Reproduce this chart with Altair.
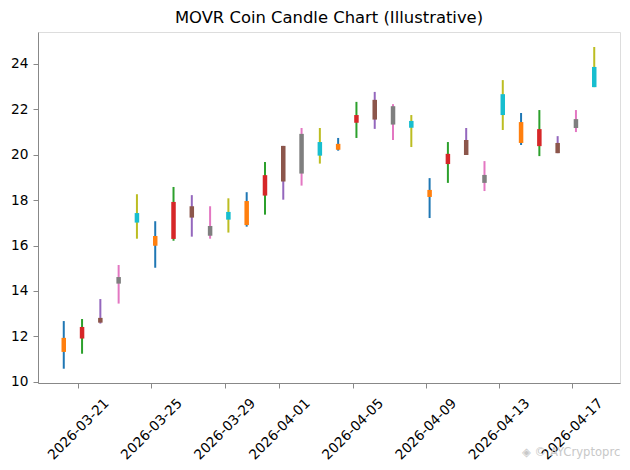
import altair as alt
import pandas as pd

dates = pd.date_range("2026-03-20 05:00", periods=30, freq="D").strftime("%Y-%m-%dT%H:%M:00Z").tolist()
highs = [12.67, 12.76, 13.64, 15.14, 18.26, 17.07, 18.58, 18.22, 17.73, 18.08,
         18.35, 19.68, 20.39, 21.18, 21.18, 20.74, 22.33, 22.77, 22.23, 21.75,
         18.97, 20.56, 21.18, 19.72, 23.29, 21.84, 21.97, 20.82, 21.97, 24.75]
lows = [10.57, 11.23, 12.56, 13.44, 16.30, 15.02, 16.21, 16.39, 16.30, 16.57,
        16.83, 17.36, 18.02, 18.64, 19.61, 20.18, 20.74, 21.14, 20.65, 20.34,
        17.21, 18.76, 19.99, 18.40, 21.09, 20.43, 19.94, 20.07, 21.00, 22.98]
opens = [11.31, 11.90, 12.60, 14.32, 17.01, 15.99, 16.29, 17.23, 16.43, 17.14,
         16.90, 18.20, 18.82, 19.17, 19.96, 20.22, 21.41, 21.55, 21.33, 21.19,
         18.14, 19.59, 19.99, 18.76, 21.75, 20.52, 20.38, 20.07, 21.18, 22.98]
closes = [11.93, 12.41, 12.81, 14.61, 17.43, 16.42, 17.92, 17.73, 16.86, 17.48,
          17.96, 19.10, 20.39, 20.92, 20.56, 20.48, 21.75, 22.42, 22.14, 21.49,
          18.45, 20.04, 20.65, 19.11, 22.67, 21.44, 21.13, 20.52, 21.57, 23.87]
x_ticks = ["2026-03-21", "2026-03-25", "2026-03-29", "2026-04-01",
           "2026-04-05", "2026-04-09", "2026-04-13", "2026-04-17"]
title = "MOVR Coin Candle Chart (Illustrative)"
watermark = "◈ © AYCryptoprc"

tab10 = ["#1f77b4", "#ff7f0e", "#2ca02c", "#d62728", "#9467bd",
         "#8c564b", "#e377c2", "#7f7f7f", "#bcbd22", "#17becf"]
FONT = "DejaVu Sans"

df = pd.DataFrame({"date": dates, "high": highs, "low": lows,
                   "open": opens, "close": closes})
df["k"] = [i % 5 for i in range(len(df))]

def dt(s, h=0, m=0):
    y, mo, d = map(int, s.split("-"))
    return alt.DateTime(year=y, month=mo, date=d, hours=h, minutes=m, utc=True)

xscale = alt.Scale(type="utc", domain=[dt("2026-03-18", 19, 12), dt("2026-04-19", 14, 48)])
yscale = alt.Scale(domain=[9.94, 25.41], nice=False, zero=False)

xenc = alt.X("date:T", scale=xscale, title=None,
             axis=alt.Axis(values=[dt(s) for s in x_ticks], format="%Y-%m-%d",
                           labelAngle=-45, labelAlign="center", labelBaseline="middle",
                           labelPadding=41, grid=False, labelFont=FONT, labelFontSize=13.7,
                           labelOverlap=False, labelBound=False, labelFlush=False))
yenc_axis = alt.Axis(values=list(range(10, 25, 2)), grid=False, labelPadding=5,
                     labelFont=FONT, labelFontSize=13.7)

base = alt.Chart(df)
wick = base.mark_rule(strokeWidth=2).encode(
    x=xenc,
    y=alt.Y("low:Q", scale=yscale, axis=yenc_axis, title=None),
    y2="high:Q",
    color=alt.Color("k:N", scale=alt.Scale(domain=[0, 1, 2, 3, 4], range=tab10[0::2]), legend=None),
)
body = base.mark_rule(strokeWidth=4.5).encode(
    x=xenc,
    y=alt.Y("open:Q", scale=yscale, axis=yenc_axis, title=None),
    y2="close:Q",
    color=alt.Color("k:N", scale=alt.Scale(domain=[0, 1, 2, 3, 4], range=tab10[1::2]), legend=None),
)
wm = alt.Chart(pd.DataFrame({"t": [watermark]})).mark_text(
    fontSize=11.6, color="#c8c8c8", align="left", baseline="middle", font=FONT
).encode(x=alt.value(484), y=alt.value(421), text="t:N")

chart = alt.layer(wick, body, wm).resolve_scale(color="independent").properties(
    width=582, height=351,
    title=alt.TitleParams(title, fontSize=16.4, font=FONT, fontWeight="normal",
                          color="black", anchor="middle", offset=6),
    autosize=alt.AutoSizeParams(type="none"),
    padding={"left": 30, "top": 24, "right": 2, "bottom": 90},
).configure_view(stroke="black", strokeWidth=1.1).configure_axis(
    labelColor="black",
    domainColor="black", domainWidth=1.1, tickColor="black", tickSize=5, tickWidth=1.1,
).configure(background="white")

chart.save("out.html", embed_options={"renderer": "svg", "actions": False})
